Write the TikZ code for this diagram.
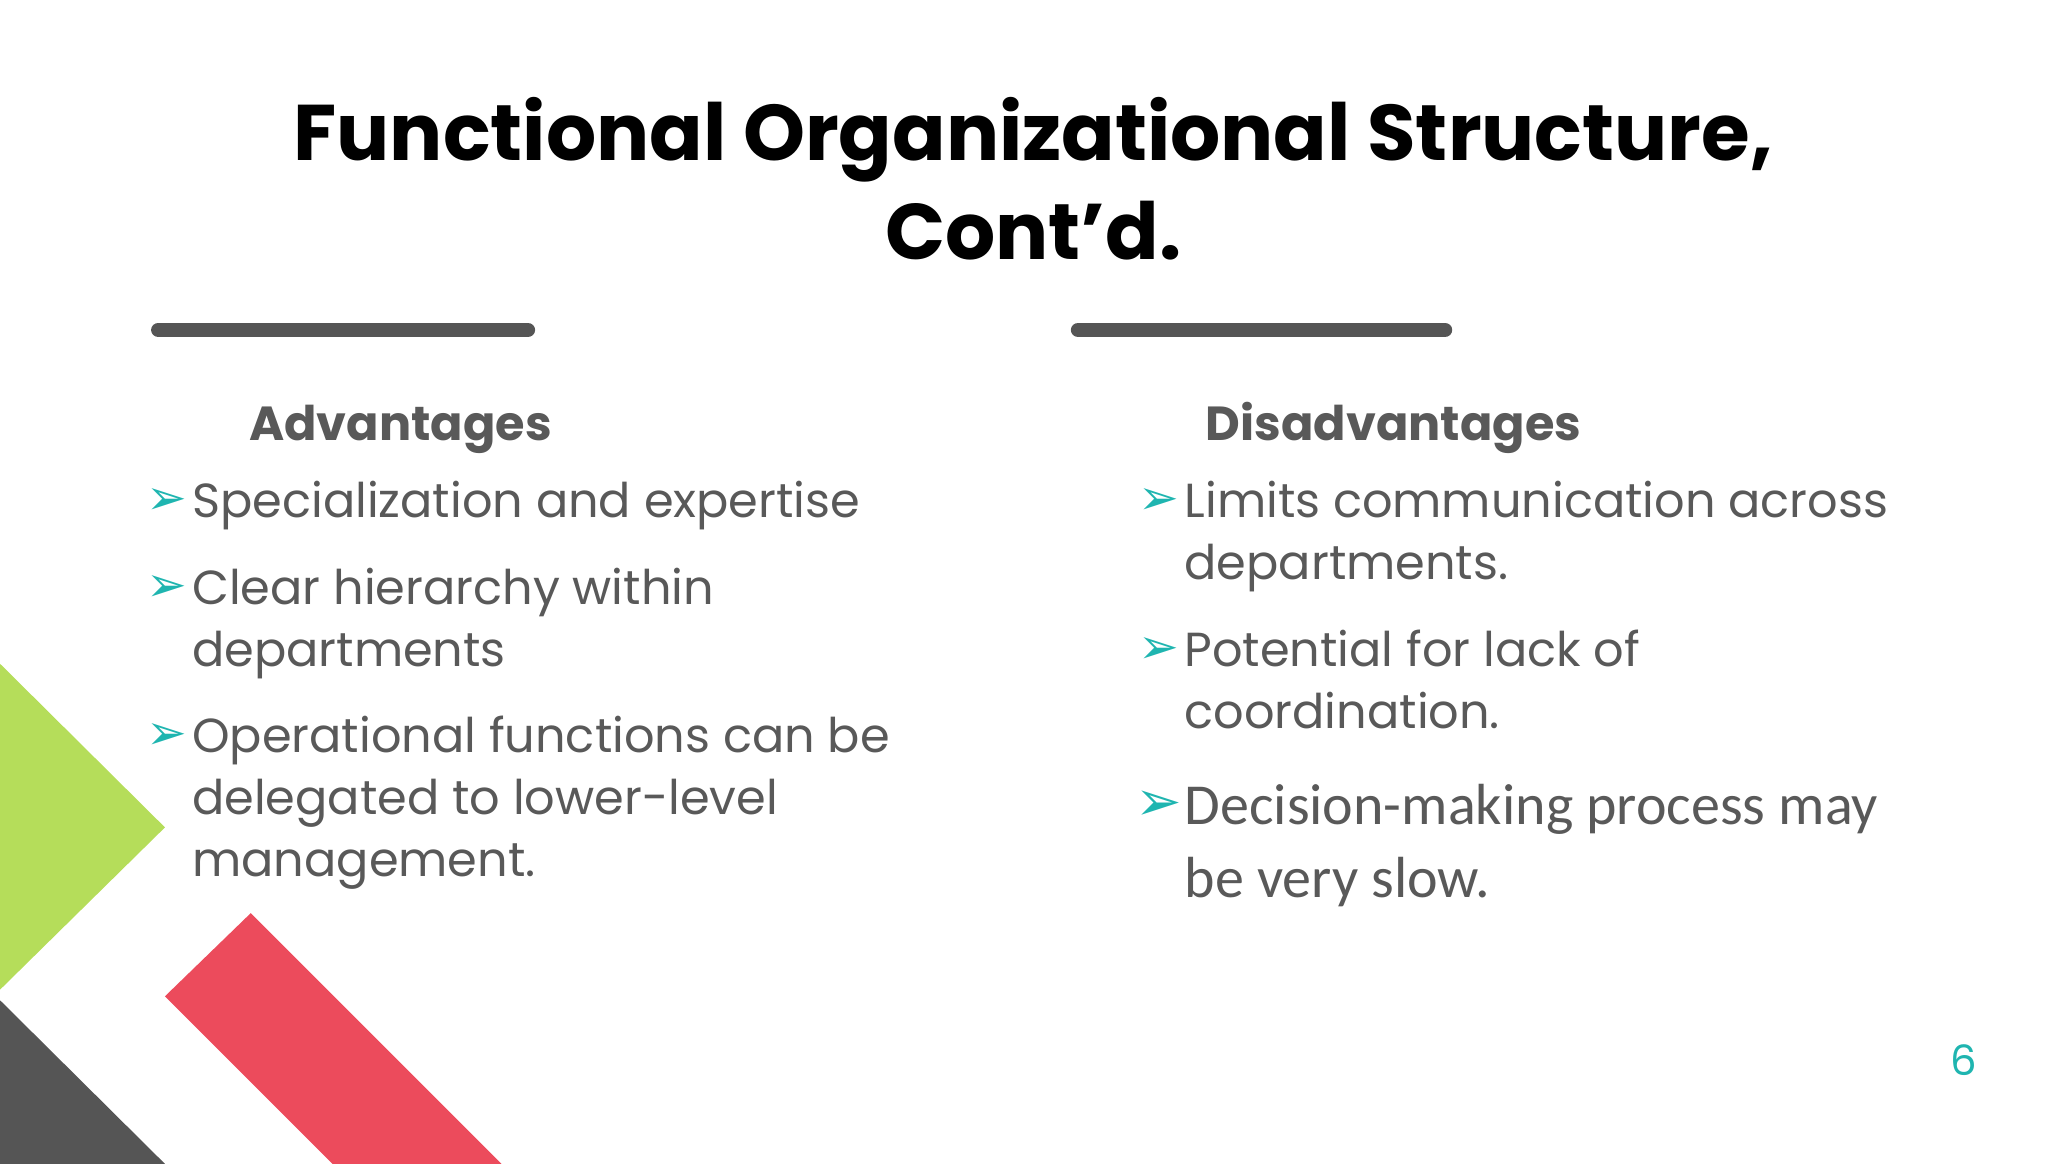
\documentclass[tikz,border=0pt]{standalone}
\usepackage{fontspec}
\setmainfont{Poppins}
\newfontfamily\dvfont{DejaVu Sans}
\newfontfamily\carfont{Carlito}
\definecolor{txt}{HTML}{595959}
\definecolor{teal}{HTML}{1FB5B0}
\definecolor{lgreen}{HTML}{B5DD5A}
\definecolor{lred}{HTML}{EC4B5C}
\definecolor{dgray}{HTML}{555555}
\begin{document}
\begin{tikzpicture}[x=0.01cm,y=-0.01cm,
  body/.style={anchor=base west,inner sep=0,text=txt,font=\fontsize{10.3pt}{12pt}\selectfont},
  bul/.style={anchor=base west,inner sep=0,text=teal,font=\dvfont\bfseries\fontsize{10.5pt}{12pt}\selectfont},
  head/.style={anchor=base west,inner sep=0,text=txt,font=\bfseries\fontsize{10.3pt}{12pt}\selectfont},
  bar/.style={line width=0.11cm,draw=dgray,line cap=round}]
\useasboundingbox (0,0) rectangle (1552,882);
\fill[lgreen] (0,503) -- (125,627) -- (0,750) -- cycle;
\fill[lred] (125,755) -- (190,692) -- (380,882) -- (252,882) -- cycle;
\fill[dgray] (0,758) -- (125,882) -- (0,882) -- cycle;
\node[anchor=base,inner sep=0,font=\bfseries\fontsize{17pt}{20pt}\selectfont] (t1) at (783,122) {Functional Organizational Structure,};
\node[anchor=base,inner sep=0,font=\bfseries\fontsize{17pt}{20pt}\selectfont] (t2) at (783,197) {Cont’d.};
\coordinate (b1a) at (120,250); \coordinate (b1b) at (400,250);
\coordinate (b2a) at (817,250); \coordinate (b2b) at (1095,250);
\draw[bar] (b1a) -- (b1b);
\draw[bar] (b2a) -- (b2b);
\node[head] (adv) at (188,334) {Advantages};
\node[head] (dis) at (913,334) {Disadvantages};
\node[bul] (ba1) at (110,390) {➢};
\node[body] (a1) at (145,392) {Specialization and expertise};
\node[bul] (ba2) at (110,456) {➢};
\node[body] (a2) at (145,458) {Clear hierarchy within};
\node[body] (a2b) at (145,505) {departments};
\node[bul] (ba3) at (110,568) {➢};
\node[body] (a3) at (145,570) {Operational functions can be};
\node[body] (a3b) at (145,617) {delegated to lower-level};
\node[body] (a3c) at (145,664) {management.};
\node[bul] (bd1) at (862,390) {➢};
\node[body] (d1) at (897,392) {Limits communication across};
\node[body] (d1b) at (897,439) {departments.};
\node[bul] (bd2) at (862,503) {➢};
\node[body] (d2) at (897,505) {Potential for lack of};
\node[body] (d2b) at (897,552) {coordination.};
\node[bul,font=\dvfont\bfseries\fontsize{12pt}{12pt}\selectfont] (bd3) at (860,622) {➢};
\node[body,font=\carfont\fontsize{12.5pt}{14pt}\selectfont] (d3) at (897,625) {Decision-making process may};
\node[body,font=\carfont\fontsize{12.5pt}{14pt}\selectfont] (d3b) at (897,680) {be very slow.};
\node[anchor=base,inner sep=0,text=teal,font=\fontsize{9pt}{10pt}\selectfont] (pg) at (1488,815) {6};
\end{tikzpicture}
\end{document}
